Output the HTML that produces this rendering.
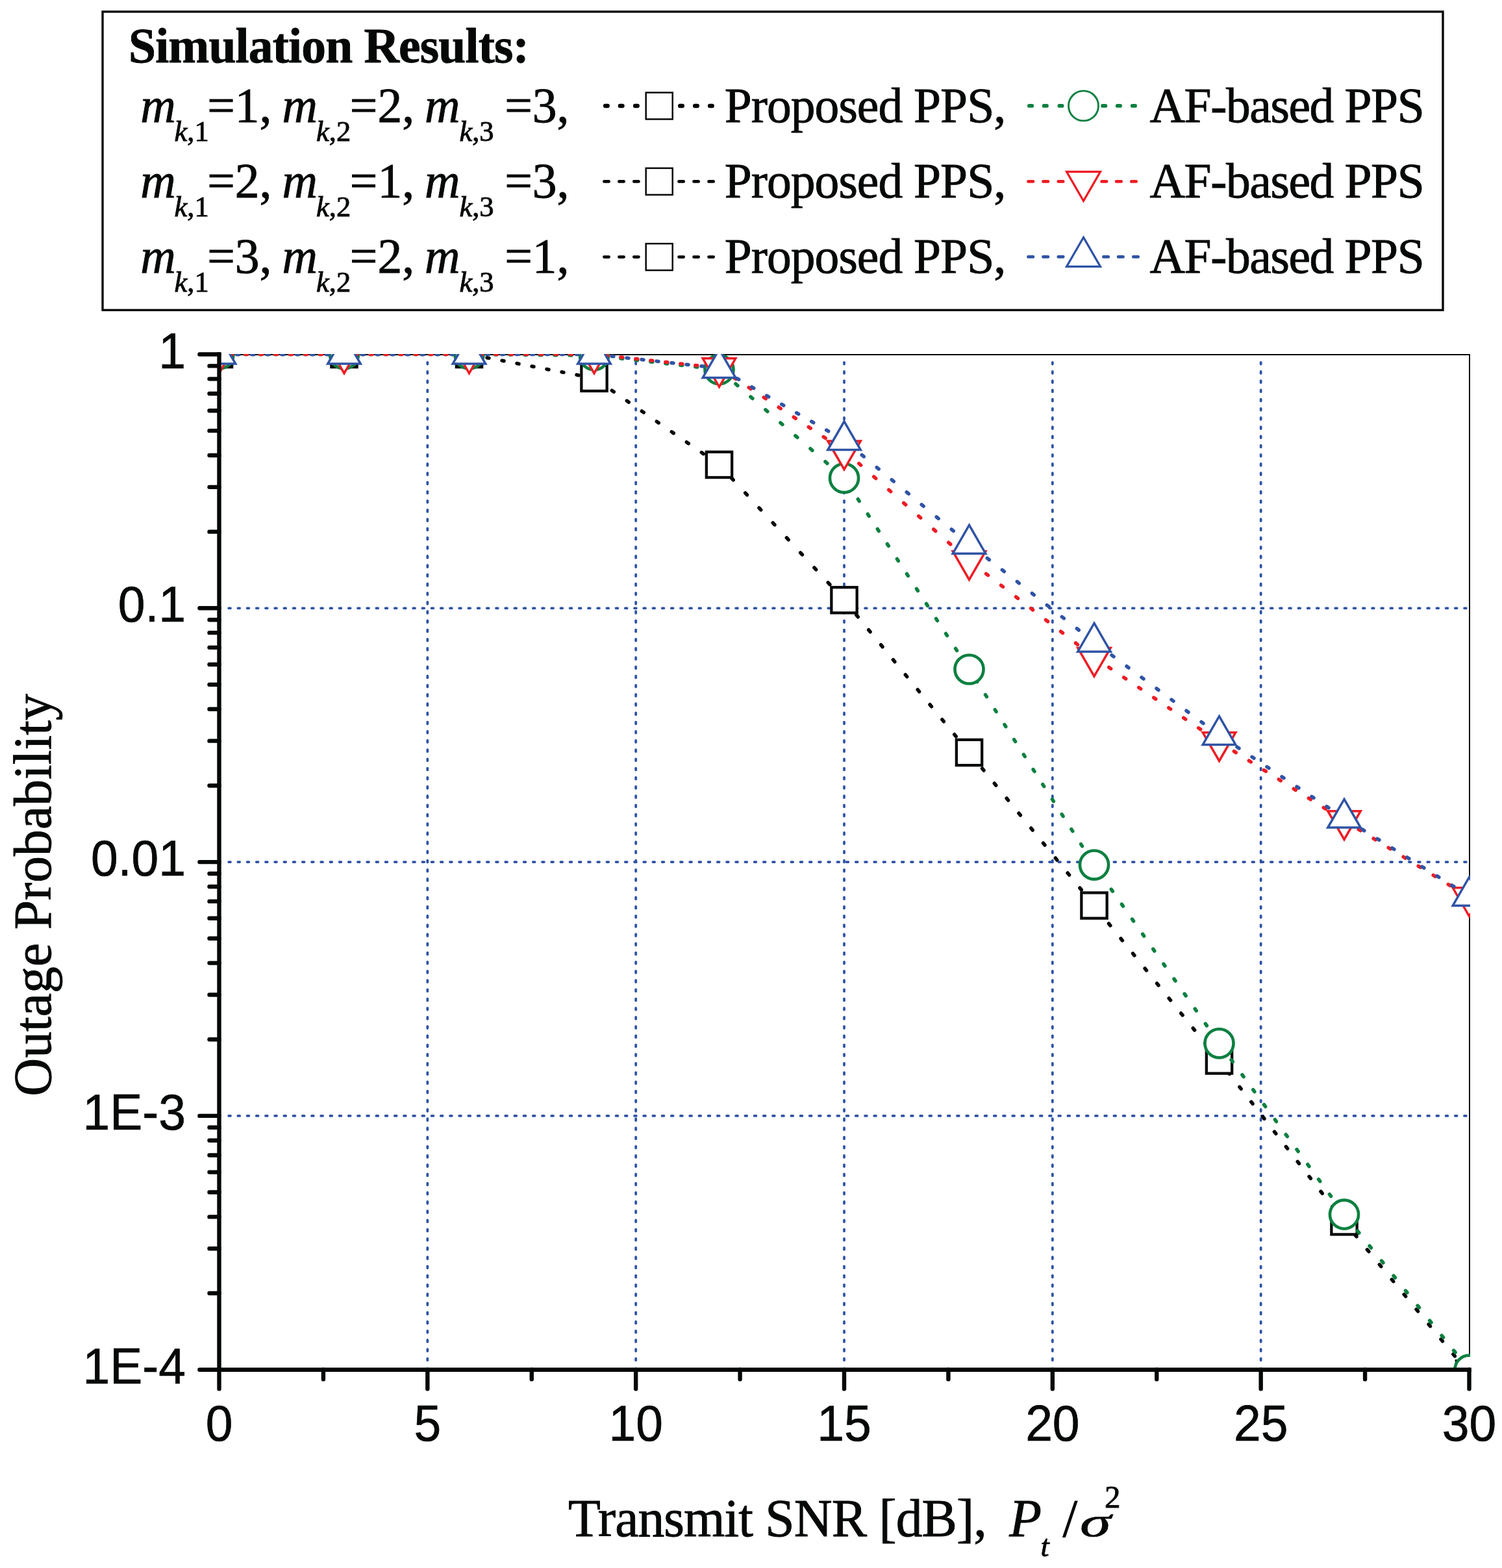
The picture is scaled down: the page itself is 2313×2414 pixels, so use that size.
<!DOCTYPE html><html><head><meta charset="utf-8"><style>html,body{margin:0;padding:0;background:#fff;overflow:hidden;}svg{display:block;}.ser{font-family:"Liberation Serif","Times New Roman",serif;stroke:#060808;stroke-width:0.9px;}.san{font-family:"Liberation Sans",Arial,sans-serif;stroke:#060808;stroke-width:0.7px;}</style></head><body>
<svg width="2313" height="2414" viewBox="0 0 2313 2414">
<rect width="2313" height="2414" fill="#fff"/>
<defs><clipPath id="pc"><rect x="337.5" y="545" width="1926.5" height="1563.7"/></clipPath></defs>
<path d="M658.33 2105.2L658.33 547M979.17 2105.2L979.17 547M1300 2105.2L1300 547M1620.83 2105.2L1620.83 547M1941.67 2105.2L1941.67 547" stroke="#2F53A5" stroke-width="3.8" stroke-linecap="round" stroke-dasharray="2.8 11.4" stroke-dashoffset="3.2" fill="none"/>
<path d="M341 936.3L2262 936.3M341 1327.1L2262 1327.1M341 1717.9L2262 1717.9" stroke="#2F53A5" stroke-width="3.8" stroke-linecap="round" stroke-dasharray="2.8 11.4" stroke-dashoffset="3.0" fill="none"/>
<path d="M337.5 546H2263V2108.7" stroke="#060808" stroke-width="1.9" fill="none"/>
<g clip-path="url(#pc)">
<path d="M342 545.5L345 545.5M365 545.5L368 545.5M388 545.5L391 545.5M411 545.5L414 545.5M434 545.5L437 545.5M457 545.5L460 545.5M480 545.5L483 545.5M503 545.5L506 545.5M526 545.5L529 545.5M534.5 545.5L537.5 545.5M557.5 545.5L560.5 545.5M580.5 545.5L583.5 545.5M603.5 545.5L606.5 545.5M626.5 545.5L629.5 545.5M649.5 545.5L652.5 545.5M672.5 545.5L675.5 545.5M695.5 545.5L698.5 545.5M718.5 545.5L721.5 545.5M727 546.36L730 546.93M750 550.76L753 551.33M773 555.16L776 555.73M796 559.56L799 560.13M819 563.96L822 564.53M842 568.35L845 568.93M865 572.75L868 573.33M888 577.15L891 577.73M911 581.55L914 582.12M919.3 585.29L922.3 587.36M942.3 601.19L945.3 603.26M965.3 617.09L968.3 619.16M988.3 632.99L991.3 635.06M1011.3 648.89L1014.3 650.96M1034.3 664.79L1037.3 666.87M1057.3 680.69L1060.3 682.77M1080.3 696.59L1083.3 698.67M1103.3 712.49L1106.3 714.57M1107.5 715.4L1107.96 715.9M1126.43 735.9L1129.2 738.9M1147.67 758.9L1150.44 761.9M1168.91 781.9L1171.68 784.9M1190.14 804.9L1192.91 807.9M1211.38 827.9L1214.15 830.9M1232.62 850.9L1235.39 853.9M1253.86 873.9L1256.63 876.9M1275.1 896.9L1277.87 899.9M1296.33 919.9L1299.1 922.9M1300 923.87L1302.38 926.77M1318.79 946.77L1321.25 949.77M1337.65 969.77L1340.12 972.77M1356.52 992.77L1358.98 995.77M1375.39 1015.77L1377.85 1018.77M1394.26 1038.77L1396.72 1041.77M1413.13 1061.77L1415.59 1064.77M1432 1084.77L1434.46 1087.77M1450.86 1107.77L1453.32 1110.77M1469.73 1130.77L1472.19 1133.77M1488.6 1153.77L1491.06 1156.77M1493.73 1160.02L1496.18 1163.02M1512.52 1183.02L1514.98 1186.02M1531.32 1206.02L1533.77 1209.02M1550.12 1229.02L1552.57 1232.02M1568.92 1252.02L1571.37 1255.02M1587.71 1275.02L1590.17 1278.02M1606.51 1298.02L1608.96 1301.02M1625.31 1321.02L1627.76 1324.02M1644.11 1344.02L1646.56 1347.02M1662.9 1367.02L1665.36 1370.02M1681.7 1390.02L1684.15 1393.02M1688.95 1398.96L1691.37 1401.96M1707.49 1421.96L1709.9 1424.96M1726.02 1444.96L1728.44 1447.96M1744.56 1467.96L1746.98 1470.96M1763.1 1490.96L1765.52 1493.96M1781.63 1513.96L1784.05 1516.96M1800.17 1536.96L1802.59 1539.96M1818.71 1559.96L1821.13 1562.96M1837.25 1582.96L1839.66 1585.96M1855.78 1605.96L1858.2 1608.96M1874.32 1628.96L1876.74 1631.96M1891.01 1650.31L1893.34 1653.31M1908.88 1673.31L1911.2 1676.31M1926.74 1696.31L1929.07 1699.31M1944.6 1719.31L1946.93 1722.31M1962.46 1742.31L1964.79 1745.31M1980.32 1765.31L1982.65 1768.31M1998.18 1788.31L2000.51 1791.31M2016.04 1811.31L2018.37 1814.31M2033.91 1834.31L2036.24 1837.31M2051.77 1857.31L2054.1 1860.31M2069.63 1880.31L2070 1880.79M2086.46 1900.79L2088.93 1903.79M2105.38 1923.79L2107.85 1926.79M2124.3 1946.79L2126.77 1949.79M2143.23 1969.79L2145.7 1972.79M2162.15 1992.79L2164.62 1995.79M2181.08 2015.79L2183.55 2018.79M2200 2038.79L2202.47 2041.79M2218.93 2061.79L2221.39 2064.79M2237.85 2084.79L2240.32 2087.79M2256.77 2107.79L2259.24 2110.79" stroke="#060808" stroke-width="5.5" stroke-linecap="round" fill="none"/>
<rect x="317.85" y="525.85" width="39.3" height="39.3" fill="#fff" stroke="#060808" stroke-width="4.3"/><rect x="510.35" y="525.85" width="39.3" height="39.3" fill="#fff" stroke="#060808" stroke-width="4.3"/><rect x="702.85" y="525.85" width="39.3" height="39.3" fill="#fff" stroke="#060808" stroke-width="4.3"/><rect x="895.35" y="562.66" width="39.3" height="39.3" fill="#fff" stroke="#060808" stroke-width="4.3"/><rect x="1087.85" y="695.75" width="39.3" height="39.3" fill="#fff" stroke="#060808" stroke-width="4.3"/><rect x="1280.35" y="904.22" width="39.3" height="39.3" fill="#fff" stroke="#060808" stroke-width="4.3"/><rect x="1472.85" y="1138.87" width="39.3" height="39.3" fill="#fff" stroke="#060808" stroke-width="4.3"/><rect x="1665.35" y="1374.41" width="39.3" height="39.3" fill="#fff" stroke="#060808" stroke-width="4.3"/><rect x="1857.85" y="1613.26" width="39.3" height="39.3" fill="#fff" stroke="#060808" stroke-width="4.3"/><rect x="2050.35" y="1861.14" width="39.3" height="39.3" fill="#fff" stroke="#060808" stroke-width="4.3"/><rect x="2242.85" y="2095.1" width="39.3" height="39.3" fill="#fff" stroke="#060808" stroke-width="4.3"/>
<path d="M354 545.5L357 545.5M377 545.5L380 545.5M400 545.5L403 545.5M423 545.5L426 545.5M446 545.5L449 545.5M469 545.5L472 545.5M492 545.5L495 545.5M515 545.5L518 545.5M546.5 545.5L549.5 545.5M569.5 545.5L572.5 545.5M592.5 545.5L595.5 545.5M615.5 545.5L618.5 545.5M638.5 545.5L641.5 545.5M661.5 545.5L664.5 545.5M684.5 545.5L687.5 545.5M707.5 545.5L710.5 545.5M739 545.65L742 545.67M762 545.85L765 545.88M785 546.05L788 546.08M808 546.26L811 546.28M831 546.46L834 546.49M854 546.67L857 546.69M877 546.87L880 546.9M900 547.07L903 547.1M932.8 549.22L935.8 549.55M955.8 551.81L958.8 552.15M978.8 554.41L981.8 554.75M1001.8 557.01L1004.8 557.35M1024.8 559.6L1027.8 559.94M1047.8 562.2L1050.8 562.54M1070.8 564.8L1073.8 565.14M1093.8 567.39L1096.8 567.73M1109.9 571.02L1112.9 573.63M1132.9 590.98L1135.9 593.59M1155.9 610.94L1158.9 613.55M1178.9 630.9L1181.9 633.51M1201.9 650.86L1204.9 653.47M1224.9 670.82L1227.9 673.43M1247.9 690.78L1250.9 693.39M1270.9 710.74L1273.9 713.35M1293.9 730.7L1296.9 733.3M1306.21 745.5L1308.17 748.5M1321.24 768.5L1323.2 771.5M1336.28 791.5L1338.24 794.5M1351.31 814.5L1353.27 817.5M1366.34 837.5L1368.3 840.5M1381.37 860.5L1383.33 863.5M1396.41 883.5L1398.37 886.5M1411.44 906.5L1413.4 909.5M1426.47 929.5L1428.43 932.5M1441.51 952.5L1443.47 955.5M1456.54 975.5L1458.5 978.5M1471.57 998.5L1473.53 1001.5M1486.6 1021.5L1488.56 1024.5M1502.8 1046.62L1504.71 1049.62M1517.5 1069.62L1519.42 1072.62M1532.21 1092.62L1534.13 1095.62M1546.92 1115.62L1548.83 1118.62M1561.62 1138.62L1563.54 1141.62M1576.33 1161.62L1578.25 1164.62M1591.04 1184.62L1592.95 1187.62M1605.74 1207.62L1607.66 1210.62M1620.45 1230.62L1622.37 1233.62M1635.16 1253.62L1637.07 1256.62M1649.86 1276.62L1651.78 1279.62M1664.57 1299.62L1666.49 1302.62M1679.28 1322.62L1681.19 1325.62M1695.16 1346.07L1697.26 1349.07M1711.28 1369.07L1713.38 1372.07M1727.39 1392.07L1729.49 1395.07M1743.51 1415.07L1745.61 1418.07M1759.62 1438.07L1761.73 1441.07M1775.74 1461.07L1777.84 1464.07M1791.85 1484.07L1793.96 1487.07M1807.97 1507.07L1810.07 1510.07M1824.09 1530.07L1826.19 1533.07M1840.2 1553.07L1842.3 1556.07M1856.32 1576.07L1858.42 1579.07M1872.43 1599.07L1874.53 1602.07M1879.26 1608.7L1881.45 1611.7M1896.07 1631.7L1898.26 1634.7M1912.88 1654.7L1915.07 1657.7M1929.69 1677.7L1931.89 1680.7M1946.51 1700.7L1948.7 1703.7M1963.32 1723.7L1965.51 1726.7M1980.13 1746.7L1982.33 1749.7M1996.95 1769.7L1999.14 1772.7M2013.76 1792.7L2015.95 1795.7M2030.57 1815.7L2032.77 1818.7M2047.39 1838.7L2049.58 1841.7M2064.2 1861.7L2066.39 1864.7M2071.93 1872.04L2074.35 1875.04M2090.45 1895.04L2092.87 1898.04M2108.97 1918.04L2111.39 1921.04M2127.49 1941.04L2129.91 1944.04M2146.01 1964.04L2148.43 1967.04M2164.54 1987.04L2166.95 1990.04M2183.06 2010.04L2185.47 2013.04M2201.58 2033.04L2203.99 2036.04M2220.1 2056.04L2222.51 2059.04M2238.62 2079.04L2241.03 2082.04M2257.14 2102.04L2259.55 2105.04" stroke="#0C8040" stroke-width="5.5" stroke-linecap="round" fill="none"/>
<circle cx="337.5" cy="545.5" r="22.05" fill="#fff" stroke="#0C8040" stroke-width="4.6"/><circle cx="530" cy="545.5" r="22.05" fill="#fff" stroke="#0C8040" stroke-width="4.6"/><circle cx="722.5" cy="545.5" r="22.05" fill="#fff" stroke="#0C8040" stroke-width="4.6"/><circle cx="915" cy="547.21" r="22.05" fill="#fff" stroke="#0C8040" stroke-width="4.6"/><circle cx="1107.5" cy="568.94" r="22.05" fill="#fff" stroke="#0C8040" stroke-width="4.6"/><circle cx="1300" cy="736" r="22.05" fill="#fff" stroke="#0C8040" stroke-width="4.6"/><circle cx="1492.5" cy="1030.52" r="22.05" fill="#fff" stroke="#0C8040" stroke-width="4.6"/><circle cx="1685" cy="1331.57" r="22.05" fill="#fff" stroke="#0C8040" stroke-width="4.6"/><circle cx="1877.5" cy="1606.3" r="22.05" fill="#fff" stroke="#0C8040" stroke-width="4.6"/><circle cx="2070" cy="1869.64" r="22.05" fill="#fff" stroke="#0C8040" stroke-width="4.6"/><circle cx="2262.5" cy="2108.7" r="22.05" fill="#fff" stroke="#0C8040" stroke-width="4.6"/>
<path d="M354.7 545.5L357.7 545.5M377.7 545.5L380.7 545.5M400.7 545.5L403.7 545.5M423.7 545.5L426.7 545.5M446.7 545.5L449.7 545.5M469.7 545.5L472.7 545.5M492.7 545.5L495.7 545.5M515.7 545.5L518.7 545.5M547.2 545.5L550.2 545.5M570.2 545.5L573.2 545.5M593.2 545.5L596.2 545.5M616.2 545.5L619.2 545.5M639.2 545.5L642.2 545.5M662.2 545.5L665.2 545.5M685.2 545.5L688.2 545.5M708.2 545.5L711.2 545.5M739.7 545.5L742.7 545.5M762.7 545.5L765.7 545.5M785.7 545.5L788.7 545.5M808.7 545.5L811.7 545.5M831.7 545.5L834.7 545.5M854.7 545.5L857.7 545.5M877.7 545.5L880.7 545.5M900.7 545.5L903.7 545.5M932.8 547.44L935.8 547.76M955.8 549.94L958.8 550.26M978.8 552.44L981.8 552.76M1001.8 554.94L1004.8 555.26M1024.8 557.44L1027.8 557.76M1047.8 559.94L1050.8 560.26M1070.8 562.44L1073.8 562.76M1093.8 564.94L1096.8 565.26M1107.5 566.43L1110.2 568.21M1130.2 581.42L1133.2 583.4M1153.2 596.6L1156.2 598.59M1176.2 611.79L1179.2 613.77M1199.2 626.98L1202.2 628.96M1222.2 642.17L1225.2 644.15M1245.2 657.36L1248.2 659.34M1268.2 672.55L1271.2 674.53M1291.2 687.73L1294.2 689.71M1300 693.54L1302.7 695.92M1322.7 713.55L1325.7 716.2M1345.7 733.83L1348.7 736.47M1368.7 754.1L1371.7 756.75M1391.7 774.38L1394.7 777.02M1414.7 794.65L1417.7 797.3M1437.7 814.93L1440.7 817.57M1460.7 835.2L1463.7 837.85M1483.7 855.48L1486.7 858.12M1495.5 865.56L1498.5 867.88M1518.5 883.34L1521.5 885.66M1541.5 901.12L1544.5 903.43M1564.5 918.9L1567.5 921.21M1587.5 936.67L1590.5 938.99M1610.5 954.45L1613.5 956.77M1633.5 972.23L1636.5 974.55M1656.5 990.01L1659.5 992.33M1679.5 1007.79L1682.5 1010.11M1685 1012.04L1687.7 1013.87M1707.7 1027.41L1710.7 1029.44M1730.7 1042.98L1733.7 1045.01M1753.7 1058.55L1756.7 1060.58M1776.7 1074.12L1779.7 1076.15M1799.7 1089.68L1802.7 1091.72M1822.7 1105.25L1825.7 1107.28M1845.7 1120.82L1848.7 1122.85M1868.7 1136.39L1871.7 1138.42M1877.5 1142.35L1880.3 1144.1M1900.3 1156.66L1903.3 1158.55M1923.3 1171.11L1926.3 1172.99M1946.3 1185.55L1949.3 1187.43M1969.3 1199.99L1972.3 1201.87M1992.3 1214.43L1995.3 1216.31M2015.3 1228.87L2018.3 1230.76M2038.3 1243.32L2041.3 1245.2M2061.3 1257.76L2064.3 1259.64M2070 1263.22L2072.2 1264.57M2092.2 1276.85L2095.2 1278.7M2115.2 1290.98L2118.2 1292.82M2138.2 1305.11L2141.2 1306.95M2161.2 1319.23L2164.2 1321.07M2184.2 1333.36L2187.2 1335.2M2207.2 1347.48L2210.2 1349.33M2230.2 1361.61L2233.2 1363.45M2253.2 1375.73L2256.2 1377.58" stroke="#ED1C24" stroke-width="5.5" stroke-linecap="round" fill="none"/>
<polygon points="337.5,574.66 362.75,530.92 312.25,530.92" fill="#fff" stroke="#ED1C24" stroke-width="3.5"/><polygon points="530,574.66 555.25,530.92 504.75,530.92" fill="#fff" stroke="#ED1C24" stroke-width="3.5"/><polygon points="722.5,574.66 747.75,530.92 697.25,530.92" fill="#fff" stroke="#ED1C24" stroke-width="3.5"/><polygon points="915,574.66 940.25,530.92 889.75,530.92" fill="#fff" stroke="#ED1C24" stroke-width="3.5"/><polygon points="1107.5,595.58 1132.75,551.85 1082.25,551.85" fill="#fff" stroke="#ED1C24" stroke-width="3.5"/><polygon points="1300,722.7 1325.25,678.97 1274.75,678.97" fill="#fff" stroke="#ED1C24" stroke-width="3.5"/><polygon points="1492.5,892.39 1517.75,848.66 1467.25,848.66" fill="#fff" stroke="#ED1C24" stroke-width="3.5"/><polygon points="1685,1041.2 1710.25,997.47 1659.75,997.47" fill="#fff" stroke="#ED1C24" stroke-width="3.5"/><polygon points="1877.5,1171.5 1902.75,1127.77 1852.25,1127.77" fill="#fff" stroke="#ED1C24" stroke-width="3.5"/><polygon points="2070,1292.38 2095.25,1248.64 2044.75,1248.64" fill="#fff" stroke="#ED1C24" stroke-width="3.5"/><polygon points="2262.5,1410.6 2287.75,1366.87 2237.25,1366.87" fill="#fff" stroke="#ED1C24" stroke-width="3.5"/>
<path d="M341.5 545.5L344.5 545.5M364.5 545.5L367.5 545.5M387.5 545.5L390.5 545.5M410.5 545.5L413.5 545.5M433.5 545.5L436.5 545.5M456.5 545.5L459.5 545.5M479.5 545.5L482.5 545.5M502.5 545.5L505.5 545.5M525.5 545.5L528.5 545.5M534 545.5L537 545.5M557 545.5L560 545.5M580 545.5L583 545.5M603 545.5L606 545.5M626 545.5L629 545.5M649 545.5L652 545.5M672 545.5L675 545.5M695 545.5L698 545.5M718 545.5L721 545.5M726.5 545.5L729.5 545.5M749.5 545.5L752.5 545.5M772.5 545.5L775.5 545.5M795.5 545.5L798.5 545.5M818.5 545.5L821.5 545.5M841.5 545.5L844.5 545.5M864.5 545.5L867.5 545.5M887.5 545.5L890.5 545.5M910.5 545.5L913.5 545.5M919 545.94L922 546.27M942 548.49L945 548.82M965 551.04L968 551.37M988 553.58L991 553.91M1011 556.13L1014 556.46M1034 558.67L1037 559.01M1057 561.22L1060 561.55M1080 563.77L1083 564.1M1103 566.31L1106 566.64M1111.7 569.24L1114.7 570.97M1134.7 582.51L1137.7 584.24M1157.7 595.79L1160.7 597.52M1180.7 609.06L1183.7 610.79M1203.7 622.34L1206.7 624.07M1226.7 635.61L1229.7 637.35M1249.7 648.89L1252.7 650.62M1272.7 662.16L1275.7 663.9M1295.7 675.44L1298.7 677.17M1304.2 681.41L1307.2 683.89M1327.2 700.48L1330.2 702.97M1350.2 719.56L1353.2 722.05M1373.2 738.63L1376.2 741.12M1396.2 757.71L1399.2 760.2M1419.2 776.79L1422.2 779.27M1442.2 795.86L1445.2 798.35M1465.2 814.94L1468.2 817.43M1488.2 834.01L1491.2 836.5M1497.3 841.34L1500.3 843.7M1520.3 859.38L1523.3 861.74M1543.3 877.42L1546.3 879.77M1566.3 895.46L1569.3 897.81M1589.3 913.5L1592.3 915.85M1612.3 931.54L1615.3 933.89M1635.3 949.58L1638.3 951.93M1658.3 967.61L1661.3 969.97M1681.3 985.65L1684.3 988.01M1689 991.53L1692 993.76M1712 1008.65L1715 1010.88M1735 1025.77L1738 1028M1758 1042.88L1761 1045.12M1781 1060L1784 1062.24M1804 1077.12L1807 1079.35M1827 1094.24L1830 1096.47M1850 1111.36L1853 1113.59M1873 1128.47L1876 1130.71M1882 1134.81L1885 1136.8M1905 1150.07L1908 1152.06M1928 1165.33L1931 1167.32M1951 1180.58L1954 1182.57M1974 1195.84L1977 1197.83M1997 1211.1L2000 1213.09M2020 1226.36L2023 1228.35M2043 1241.62L2046 1243.61M2066 1256.88L2069 1258.87M2074.9 1262.59L2077.9 1264.46M2097.9 1276.93L2100.9 1278.8M2120.9 1291.28L2123.9 1293.15M2143.9 1305.62L2146.9 1307.49M2166.9 1319.96L2169.9 1321.84M2189.9 1334.31L2192.9 1336.18M2212.9 1348.65L2215.9 1350.52M2235.9 1363L2238.9 1364.87M2258.9 1377.34L2261.9 1379.21" stroke="#2F53A5" stroke-width="5.5" stroke-linecap="round" fill="none"/>
<polygon points="337.5,516.34 362.75,560.08 312.25,560.08" fill="#fff" stroke="#2F53A5" stroke-width="3.5"/><polygon points="530,516.34 555.25,560.08 504.75,560.08" fill="#fff" stroke="#2F53A5" stroke-width="3.5"/><polygon points="722.5,516.34 747.75,560.08 697.25,560.08" fill="#fff" stroke="#2F53A5" stroke-width="3.5"/><polygon points="915,516.34 940.25,560.08 889.75,560.08" fill="#fff" stroke="#2F53A5" stroke-width="3.5"/><polygon points="1107.5,537.65 1132.75,581.39 1082.25,581.39" fill="#fff" stroke="#2F53A5" stroke-width="3.5"/><polygon points="1300,648.77 1325.25,692.5 1274.75,692.5" fill="#fff" stroke="#2F53A5" stroke-width="3.5"/><polygon points="1492.5,808.42 1517.75,852.16 1467.25,852.16" fill="#fff" stroke="#2F53A5" stroke-width="3.5"/><polygon points="1685,959.4 1710.25,1003.13 1659.75,1003.13" fill="#fff" stroke="#2F53A5" stroke-width="3.5"/><polygon points="1877.5,1102.67 1902.75,1146.4 1852.25,1146.4" fill="#fff" stroke="#2F53A5" stroke-width="3.5"/><polygon points="2070,1230.38 2095.25,1274.11 2044.75,1274.11" fill="#fff" stroke="#2F53A5" stroke-width="3.5"/><polygon points="2262.5,1350.43 2287.75,1394.16 2237.25,1394.16" fill="#fff" stroke="#2F53A5" stroke-width="3.5"/>
</g>
<path d="M337.5 542.3V2112" stroke="#060808" stroke-width="6.4" fill="none"/>
<path d="M334.3 2108.7H2265.8" stroke="#060808" stroke-width="6.4" fill="none"/>
<path d="M337.5 545.5H307.4M337.5 818.66H322.5M337.5 749.84H322.5M337.5 701.01H322.5M337.5 663.14H322.5M337.5 632.2H322.5M337.5 606.04H322.5M337.5 583.37H322.5M337.5 563.38H322.5M337.5 936.3H307.4M337.5 1209.46H322.5M337.5 1140.64H322.5M337.5 1091.81H322.5M337.5 1053.94H322.5M337.5 1023H322.5M337.5 996.84H322.5M337.5 974.17H322.5M337.5 954.18H322.5M337.5 1327.1H307.4M337.5 1600.26H322.5M337.5 1531.44H322.5M337.5 1482.61H322.5M337.5 1444.74H322.5M337.5 1413.8H322.5M337.5 1387.64H322.5M337.5 1364.97H322.5M337.5 1344.98H322.5M337.5 1717.9H307.4M337.5 1991.06H322.5M337.5 1922.24H322.5M337.5 1873.41H322.5M337.5 1835.54H322.5M337.5 1804.6H322.5M337.5 1778.44H322.5M337.5 1755.77H322.5M337.5 1735.78H322.5M337.5 2108.7H307.4M337.5 2108.7V2138.3M658.33 2108.7V2138.3M979.17 2108.7V2138.3M1300 2108.7V2138.3M1620.83 2108.7V2138.3M1941.67 2108.7V2138.3M2262.5 2108.7V2138.3M497.92 2108.7V2123.4M818.75 2108.7V2123.4M1139.58 2108.7V2123.4M1460.42 2108.7V2123.4M1781.25 2108.7V2123.4M2102.08 2108.7V2123.4" stroke="#060808" stroke-width="6.4" stroke-linecap="round" fill="none"/>
<g class="san" font-size="78" fill="#060808"><text transform="translate(286 566.5) scale(0.9615 1)" text-anchor="end">1</text><text transform="translate(286 957.3) scale(0.9615 1)" text-anchor="end">0.1</text><text transform="translate(286 1348.1) scale(0.9615 1)" text-anchor="end">0.01</text><text transform="translate(286 1738.9) scale(0.9615 1)" text-anchor="end">1E-3</text><text transform="translate(286 2129.7) scale(0.9615 1)" text-anchor="end">1E-4</text><text transform="translate(337.5 2217.5) scale(0.9615 1)" text-anchor="middle">0</text><text transform="translate(658.33 2217.5) scale(0.9615 1)" text-anchor="middle">5</text><text transform="translate(979.17 2217.5) scale(0.9615 1)" text-anchor="middle">10</text><text transform="translate(1300 2217.5) scale(0.9615 1)" text-anchor="middle">15</text><text transform="translate(1620.83 2217.5) scale(0.9615 1)" text-anchor="middle">20</text><text transform="translate(1941.67 2217.5) scale(0.9615 1)" text-anchor="middle">25</text><text transform="translate(2262.5 2217.5) scale(0.9615 1)" text-anchor="middle">30</text></g>
<text class="ser" font-size="81.5" fill="#060808" transform="translate(77.5 1378) rotate(-90)" text-anchor="middle" textLength="619.3" lengthAdjust="spacing">Outage Probability</text>
<g fill="#060808"><text class="ser" font-size="81.5" x="875" y="2364.8" textLength="644.56" lengthAdjust="spacing">Transmit SNR [dB],</text><text class="ser" font-style="italic" font-size="81.5" x="1554.2" y="2364.8">P</text><text class="ser" font-style="italic" font-size="47" x="1602.4" y="2395.6">t</text><text class="ser" font-size="81.5" x="1636.4" y="2364.8">/</text><text class="ser" font-style="italic" font-size="81.5" transform="translate(1663.1 2364.8) scale(1.19 0.81)">σ</text><text class="ser" font-size="49" x="1701" y="2320.7">2</text></g>
<g fill="#060808"><rect x="158" y="18" width="2064" height="459.4" fill="#fff" stroke="#060808" stroke-width="3.4"/><text class="ser" font-weight="bold" font-size="75.5" x="198" y="95.9" textLength="616.79" lengthAdjust="spacing">Simulation Results:</text><text class="ser" font-style="italic" font-size="75.5" x="216.2" y="188">m</text><text class="ser" font-size="44.5" x="268.6" y="217"><tspan font-style="italic">k</tspan>,1</text><text class="ser" font-size="75.5" x="319.2" y="188">=1,</text><text class="ser" font-style="italic" font-size="75.5" x="434.4" y="188">m</text><text class="ser" font-size="44.5" x="487" y="217"><tspan font-style="italic">k</tspan>,2</text><text class="ser" font-size="75.5" x="538.8" y="188">=2,</text><text class="ser" font-style="italic" font-size="75.5" x="654" y="188">m</text><text class="ser" font-size="44.5" x="707.4" y="217"><tspan font-style="italic">k</tspan>,3</text><text class="ser" font-size="75.5" x="777.2" y="188">=3,</text><text class="ser" font-size="75.5" x="1115.8" y="188" textLength="433.27" lengthAdjust="spacing">Proposed PPS,</text><text class="ser" font-size="75.5" x="1770.4" y="188" textLength="423.24" lengthAdjust="spacing">AF-based PPS</text><text class="ser" font-style="italic" font-size="75.5" x="216.2" y="304">m</text><text class="ser" font-size="44.5" x="268.6" y="333"><tspan font-style="italic">k</tspan>,1</text><text class="ser" font-size="75.5" x="319.2" y="304">=2,</text><text class="ser" font-style="italic" font-size="75.5" x="434.4" y="304">m</text><text class="ser" font-size="44.5" x="487" y="333"><tspan font-style="italic">k</tspan>,2</text><text class="ser" font-size="75.5" x="538.8" y="304">=1,</text><text class="ser" font-style="italic" font-size="75.5" x="654" y="304">m</text><text class="ser" font-size="44.5" x="707.4" y="333"><tspan font-style="italic">k</tspan>,3</text><text class="ser" font-size="75.5" x="777.2" y="304">=3,</text><text class="ser" font-size="75.5" x="1115.8" y="304" textLength="433.27" lengthAdjust="spacing">Proposed PPS,</text><text class="ser" font-size="75.5" x="1770.4" y="304" textLength="423.24" lengthAdjust="spacing">AF-based PPS</text><text class="ser" font-style="italic" font-size="75.5" x="216.2" y="419.7">m</text><text class="ser" font-size="44.5" x="268.6" y="448.7"><tspan font-style="italic">k</tspan>,1</text><text class="ser" font-size="75.5" x="319.2" y="419.7">=3,</text><text class="ser" font-style="italic" font-size="75.5" x="434.4" y="419.7">m</text><text class="ser" font-size="44.5" x="487" y="448.7"><tspan font-style="italic">k</tspan>,2</text><text class="ser" font-size="75.5" x="538.8" y="419.7">=2,</text><text class="ser" font-style="italic" font-size="75.5" x="654" y="419.7">m</text><text class="ser" font-size="44.5" x="707.4" y="448.7"><tspan font-style="italic">k</tspan>,3</text><text class="ser" font-size="75.5" x="777.2" y="419.7">=1,</text><text class="ser" font-size="75.5" x="1115.8" y="419.7" textLength="433.27" lengthAdjust="spacing">Proposed PPS,</text><text class="ser" font-size="75.5" x="1770.4" y="419.7" textLength="423.24" lengthAdjust="spacing">AF-based PPS</text><path d="M932.2 163H935.6M955 163H958.4M978.2 163H981.6M1047.3 163H1050.7M1070.3 163H1073.7M1093.2 163H1096.6" stroke="#060808" stroke-width="6.6" stroke-linecap="round" fill="none"/><rect x="994.7" y="142.5" width="41" height="41" fill="#fff" stroke="#060808" stroke-width="2.5"/><path d="M930.4 279.4H937.6M953.4 279.4H960.6M976.3 279.4H983.5M1045.5 279.4H1052.7M1068.5 279.4H1075.7M1091.5 279.4H1098.7" stroke="#060808" stroke-width="4.7" stroke-linecap="round" fill="none"/><rect x="994.7" y="258.9" width="41" height="41" fill="#fff" stroke="#060808" stroke-width="2.5"/><path d="M930.4 395.6H937.6M953.4 395.6H960.6M976.3 395.6H983.5M1045.5 395.6H1052.7M1068.5 395.6H1075.7M1091.5 395.6H1098.7" stroke="#060808" stroke-width="4.7" stroke-linecap="round" fill="none"/><rect x="994.7" y="375.1" width="41" height="41" fill="#fff" stroke="#060808" stroke-width="2.5"/><path d="M1584.95 162.9H1589.25M1607.65 162.9H1611.95M1631.35 162.9H1635.65M1698.05 162.9H1702.35M1720.75 162.9H1725.05M1743.75 162.9H1748.05" stroke="#0C8040" stroke-width="5.8" stroke-linecap="round" fill="none"/><circle cx="1668.5" cy="162.9" r="23" fill="#fff" stroke="#0C8040" stroke-width="2.9"/><path d="M1583.45 279.4H1590.95M1606.45 279.4H1613.95M1629.75 279.4H1637.25M1696.55 279.4H1704.05M1719.15 279.4H1726.65M1742.25 279.4H1749.75" stroke="#ED1C24" stroke-width="4.7" stroke-linecap="round" fill="none"/><polygon points="1668.5,309.42 1694.5,264.39 1642.5,264.39" fill="#fff" stroke="#ED1C24" stroke-width="3.2"/><path d="M1583.45 395.4H1590.95M1606.45 395.4H1613.95M1629.75 395.4H1637.25M1699.35 395.4H1706.85M1722.05 395.4H1729.55M1745.25 395.4H1752.75" stroke="#2F53A5" stroke-width="4.7" stroke-linecap="round" fill="none"/><polygon points="1668.5,365.38 1694.5,410.41 1642.5,410.41" fill="#fff" stroke="#2F53A5" stroke-width="3.2"/></g>
</svg></body></html>
